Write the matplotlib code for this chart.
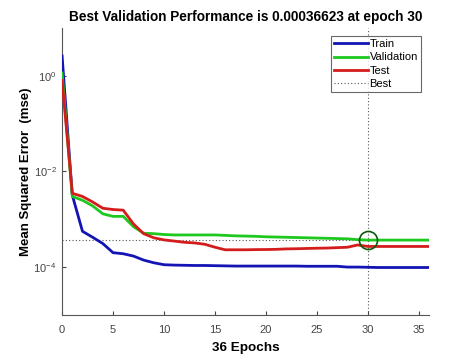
import matplotlib
matplotlib.use("Agg")
import matplotlib.pyplot as plt
import numpy as np

plt.rcParams['font.family'] = ['Liberation Sans', 'DejaVu Sans']
plt.rcParams['mathtext.fontset'] = 'custom'
plt.rcParams['mathtext.rm'] = 'Liberation Sans'
plt.rcParams['mathtext.it'] = 'Liberation Sans:italic'
plt.rcParams['mathtext.bf'] = 'Liberation Sans:bold'

epochs = list(range(0, 37))
train = [2.6, 3.2e-3, 5.6e-4, 4.2e-4, 3.1e-4, 2.0e-4, 1.9e-4, 1.7e-4, 1.4e-4, 1.23e-4,
         1.12e-4, 1.10e-4, 1.09e-4, 1.08e-4, 1.08e-4, 1.07e-4, 1.06e-4, 1.05e-4, 1.05e-4, 1.05e-4,
         1.05e-4, 1.05e-4, 1.05e-4, 1.05e-4, 1.04e-4, 1.04e-4, 1.04e-4, 1.04e-4, 1.0e-4, 1.0e-4,
         9.9e-5, 9.8e-5, 9.8e-5, 9.8e-5, 9.8e-5, 9.8e-5, 9.8e-5]
validation = [1.15, 3.0e-3, 2.5e-3, 1.9e-3, 1.3e-3, 1.15e-3, 1.15e-3, 7.0e-4, 5.1e-4, 5.0e-4,
              4.8e-4, 4.7e-4, 4.7e-4, 4.7e-4, 4.7e-4, 4.7e-4, 4.6e-4, 4.5e-4, 4.45e-4, 4.4e-4,
              4.3e-4, 4.25e-4, 4.2e-4, 4.15e-4, 4.1e-4, 4.05e-4, 4.0e-4, 3.95e-4, 3.9e-4, 3.75e-4,
              3.6623e-4, 3.67e-4, 3.67e-4, 3.67e-4, 3.67e-4, 3.67e-4, 3.67e-4]
test = [0.8, 3.5e-3, 3.0e-3, 2.3e-3, 1.7e-3, 1.6e-3, 1.55e-3, 8.0e-4, 5.0e-4, 4.1e-4,
        3.7e-4, 3.5e-4, 3.3e-4, 3.2e-4, 3.0e-4, 2.6e-4, 2.3e-4, 2.3e-4, 2.3e-4, 2.32e-4,
        2.33e-4, 2.35e-4, 2.4e-4, 2.42e-4, 2.45e-4, 2.48e-4, 2.5e-4, 2.55e-4, 2.6e-4, 2.9e-4,
        2.7e-4, 2.7e-4, 2.7e-4, 2.7e-4, 2.7e-4, 2.7e-4, 2.7e-4]
best_epoch = 30
best_perf = 0.00036623

fig = plt.figure(figsize=(4.74, 3.55), dpi=100)
ax = fig.add_axes([0.131, 0.113, 0.774, 0.808])

ax.plot(epochs, train, color='#1414b4', lw=2, label='Train', zorder=3)
ax.plot(epochs, validation, color='#1ec81e', lw=2, label='Validation', zorder=3)
ax.plot(epochs, test, color='#d41c1c', lw=2, label='Test', zorder=3)
ax.axvline(best_epoch, color='#555555', lw=0.8, ls=(0, (1, 2)), label='Best', zorder=2)
ax.plot([0, best_epoch], [best_perf, best_perf], color='#555555', lw=0.8, ls=(0, (1, 2)), zorder=2)
ax.plot([best_epoch], [best_perf], marker='o', ms=13, mfc='none', mec='#0a5a0a', mew=1.2, zorder=4)

ax.set_yscale('log')
ax.set_xlim(0, 36)
ax.set_ylim(1e-5, 10)
ax.set_xticks(list(range(0, 36, 5)))
ax.set_yticks([1e-4, 1e-2, 1e0])
ax.minorticks_off()
ax.tick_params(direction='in', colors='#444444', labelsize=8, length=3, width=0.8)
ax.tick_params(axis='x', pad=7)
ax.tick_params(axis='y', pad=4)
for s in ['top', 'right']:
    ax.spines[s].set_visible(False)
for s in ['left', 'bottom']:
    ax.spines[s].set_color('#555555')
    ax.spines[s].set_linewidth(0.8)

ax.set_title('Best Validation Performance is 0.00036623 at epoch 30', fontsize=9.8, fontweight='bold', pad=5)
ax.set_xlabel('36 Epochs', fontsize=9.7, fontweight='bold', labelpad=5)
ax.set_ylabel('Mean Squared Error  (mse)', fontsize=9.5, fontweight='bold', labelpad=1)

leg = ax.legend(loc='upper right', fontsize=8, frameon=True, fancybox=False, borderpad=0.3,
                handlelength=3.1, handletextpad=0.1, labelspacing=0.3, borderaxespad=0.7)
leg.get_frame().set_edgecolor('#444444')
leg.get_frame().set_linewidth(0.8)

fig.savefig('out.png', dpi=100)
